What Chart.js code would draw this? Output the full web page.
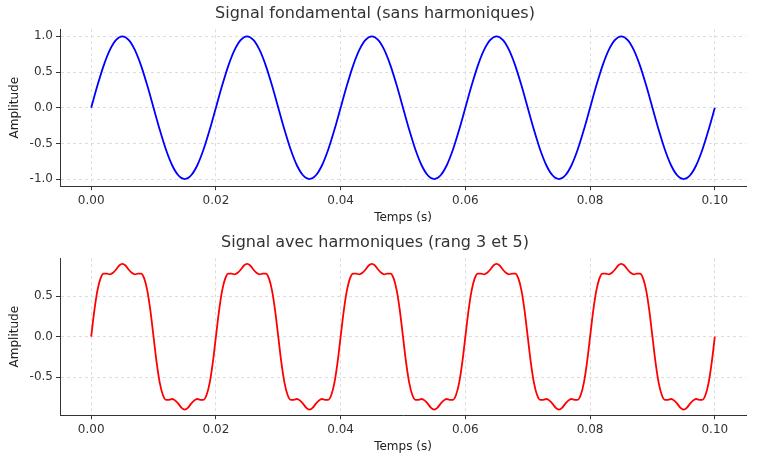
<!DOCTYPE html>
<html>
<head>
<meta charset="utf-8">
<script src="https://cdn.jsdelivr.net/npm/chart.js@4"></script>
<style>
  body { margin: 0; background: white; }
  .box { width: 768px; height: 229px; position: relative; }
</style>
</head>
<body>
<div class="box"><canvas id="topChart"></canvas></div>
<div class="box"><canvas id="bottomChart"></canvas></div>
<script>
Chart.defaults.font.family = "'DejaVu Sans', sans-serif";
Chart.defaults.color = '#222';

// time axis: 0 .. 0.1 s
var topStep = 0.001;
var bottomStep = 0.0005;

// fondamental, one point every 1 ms
var topValues = [
  0, 0.31, 0.59, 0.81, 0.95, 1, 0.95, 0.81, 0.59, 0.31, 0, -0.31, -0.59, -0.81, -0.95, -1, -0.95, -0.81, -0.59, -0.31,
  0, 0.31, 0.59, 0.81, 0.95, 1, 0.95, 0.81, 0.59, 0.31, 0, -0.31, -0.59, -0.81, -0.95, -1, -0.95, -0.81, -0.59, -0.31,
  0, 0.31, 0.59, 0.81, 0.95, 1, 0.95, 0.81, 0.59, 0.31, 0, -0.31, -0.59, -0.81, -0.95, -1, -0.95, -0.81, -0.59, -0.31,
  0, 0.31, 0.59, 0.81, 0.95, 1, 0.95, 0.81, 0.59, 0.31, 0, -0.31, -0.59, -0.81, -0.95, -1, -0.95, -0.81, -0.59, -0.31,
  0, 0.31, 0.59, 0.81, 0.95, 1, 0.95, 0.81, 0.59, 0.31, 0, -0.31, -0.59, -0.81, -0.95, -1, -0.95, -0.81, -0.59, -0.31,
  0
];

// avec harmoniques, one point every 0.5 ms
var bottomValues = [
  0, 0.32, 0.57, 0.72, 0.78, 0.78, 0.77, 0.79, 0.83, 0.88, 0.9, 0.88, 0.83, 0.79, 0.77, 0.78, 0.78, 0.72, 0.57, 0.32,
  0, -0.32, -0.57, -0.72, -0.78, -0.78, -0.77, -0.79, -0.83, -0.88, -0.9, -0.88, -0.83, -0.79, -0.77, -0.78, -0.78, -0.72, -0.57, -0.32,
  0, 0.32, 0.57, 0.72, 0.78, 0.78, 0.77, 0.79, 0.83, 0.88, 0.9, 0.88, 0.83, 0.79, 0.77, 0.78, 0.78, 0.72, 0.57, 0.32,
  0, -0.32, -0.57, -0.72, -0.78, -0.78, -0.77, -0.79, -0.83, -0.88, -0.9, -0.88, -0.83, -0.79, -0.77, -0.78, -0.78, -0.72, -0.57, -0.32,
  0, 0.32, 0.57, 0.72, 0.78, 0.78, 0.77, 0.79, 0.83, 0.88, 0.9, 0.88, 0.83, 0.79, 0.77, 0.78, 0.78, 0.72, 0.57, 0.32,
  0, -0.32, -0.57, -0.72, -0.78, -0.78, -0.77, -0.79, -0.83, -0.88, -0.9, -0.88, -0.83, -0.79, -0.77, -0.78, -0.78, -0.72, -0.57, -0.32,
  0, 0.32, 0.57, 0.72, 0.78, 0.78, 0.77, 0.79, 0.83, 0.88, 0.9, 0.88, 0.83, 0.79, 0.77, 0.78, 0.78, 0.72, 0.57, 0.32,
  0, -0.32, -0.57, -0.72, -0.78, -0.78, -0.77, -0.79, -0.83, -0.88, -0.9, -0.88, -0.83, -0.79, -0.77, -0.78, -0.78, -0.72, -0.57, -0.32,
  0, 0.32, 0.57, 0.72, 0.78, 0.78, 0.77, 0.79, 0.83, 0.88, 0.9, 0.88, 0.83, 0.79, 0.77, 0.78, 0.78, 0.72, 0.57, 0.32,
  0, -0.32, -0.57, -0.72, -0.78, -0.78, -0.77, -0.79, -0.83, -0.88, -0.9, -0.88, -0.83, -0.79, -0.77, -0.78, -0.78, -0.72, -0.57, -0.32,
  0
];

var xTicks = [0, 0.02, 0.04, 0.06, 0.08, 0.10];
var topYTicks = [-1, -0.5, 0, 0.5, 1];
var bottomYTicks = [-0.5, 0, 0.5];

function toPoints(values, step) {
  return values.map(function(v, i) { return {x: i * step, y: v}; });
}

function makeChart(id, title, values, step, color, yMin, yMax, yTicks) {
  var ctx = document.getElementById(id).getContext('2d');
  return new Chart(ctx, {
    type: 'line',
    data: {
      datasets: [{
        data: toPoints(values, step),
        borderColor: color,
        borderWidth: 1.8,
        pointRadius: 0,
        tension: 0.4,
        cubicInterpolationMode: 'monotone',
      }],
    },
    options: {
      responsive: true,
      maintainAspectRatio: false,
      animation: false,
      layout: {padding: {left: 4, right: 22, top: 0, bottom: 0}},
      scales: {
        x: {
          type: 'linear',
          min: -0.005,
          max: 0.105,
          afterBuildTicks: function(axis) { axis.ticks = xTicks.map(function(v) { return {value: v}; }); },
          ticks: {font: {size: 12}, color: '#333', maxRotation: 0,
                  callback: function(v) { return v.toFixed(2); }},
          grid: {color: '#dddddd', tickColor: '#333', tickLength: 4},
          border: {color: '#333', dash: [3, 3], display: true},
          title: {display: true, text: 'Temps (s)', font: {size: 12}, color: '#222', padding: {top: 0}},
        },
        y: {
          min: yMin,
          max: yMax,
          afterFit: function(axis) { axis.width = 56; },
          afterBuildTicks: function(axis) { axis.ticks = yTicks.map(function(v) { return {value: v}; }); },
          ticks: {font: {size: 12}, color: '#333',
                  callback: function(v) { return v.toFixed(1); }},
          grid: {color: '#dddddd', tickColor: '#333', tickLength: 4},
          border: {color: '#333', dash: [3, 3]},
          title: {display: true, text: 'Amplitude', font: {size: 12}, color: '#222'},
        },
      },
      plugins: {
        legend: {display: false},
        tooltip: {enabled: false},
        title: {display: true, text: title, font: {size: 16, weight: 'normal'}, color: '#333',
                padding: {top: 4, bottom: 6}},
      },
    },
  });
}

makeChart('topChart', 'Signal fondamental (sans harmoniques)', topValues, topStep, '#0000ff', -1.1, 1.1, topYTicks);
makeChart('bottomChart', 'Signal avec harmoniques (rang 3 et 5)', bottomValues, bottomStep, '#ff0000', -0.97, 0.97, bottomYTicks);
</script>
</body>
</html>
